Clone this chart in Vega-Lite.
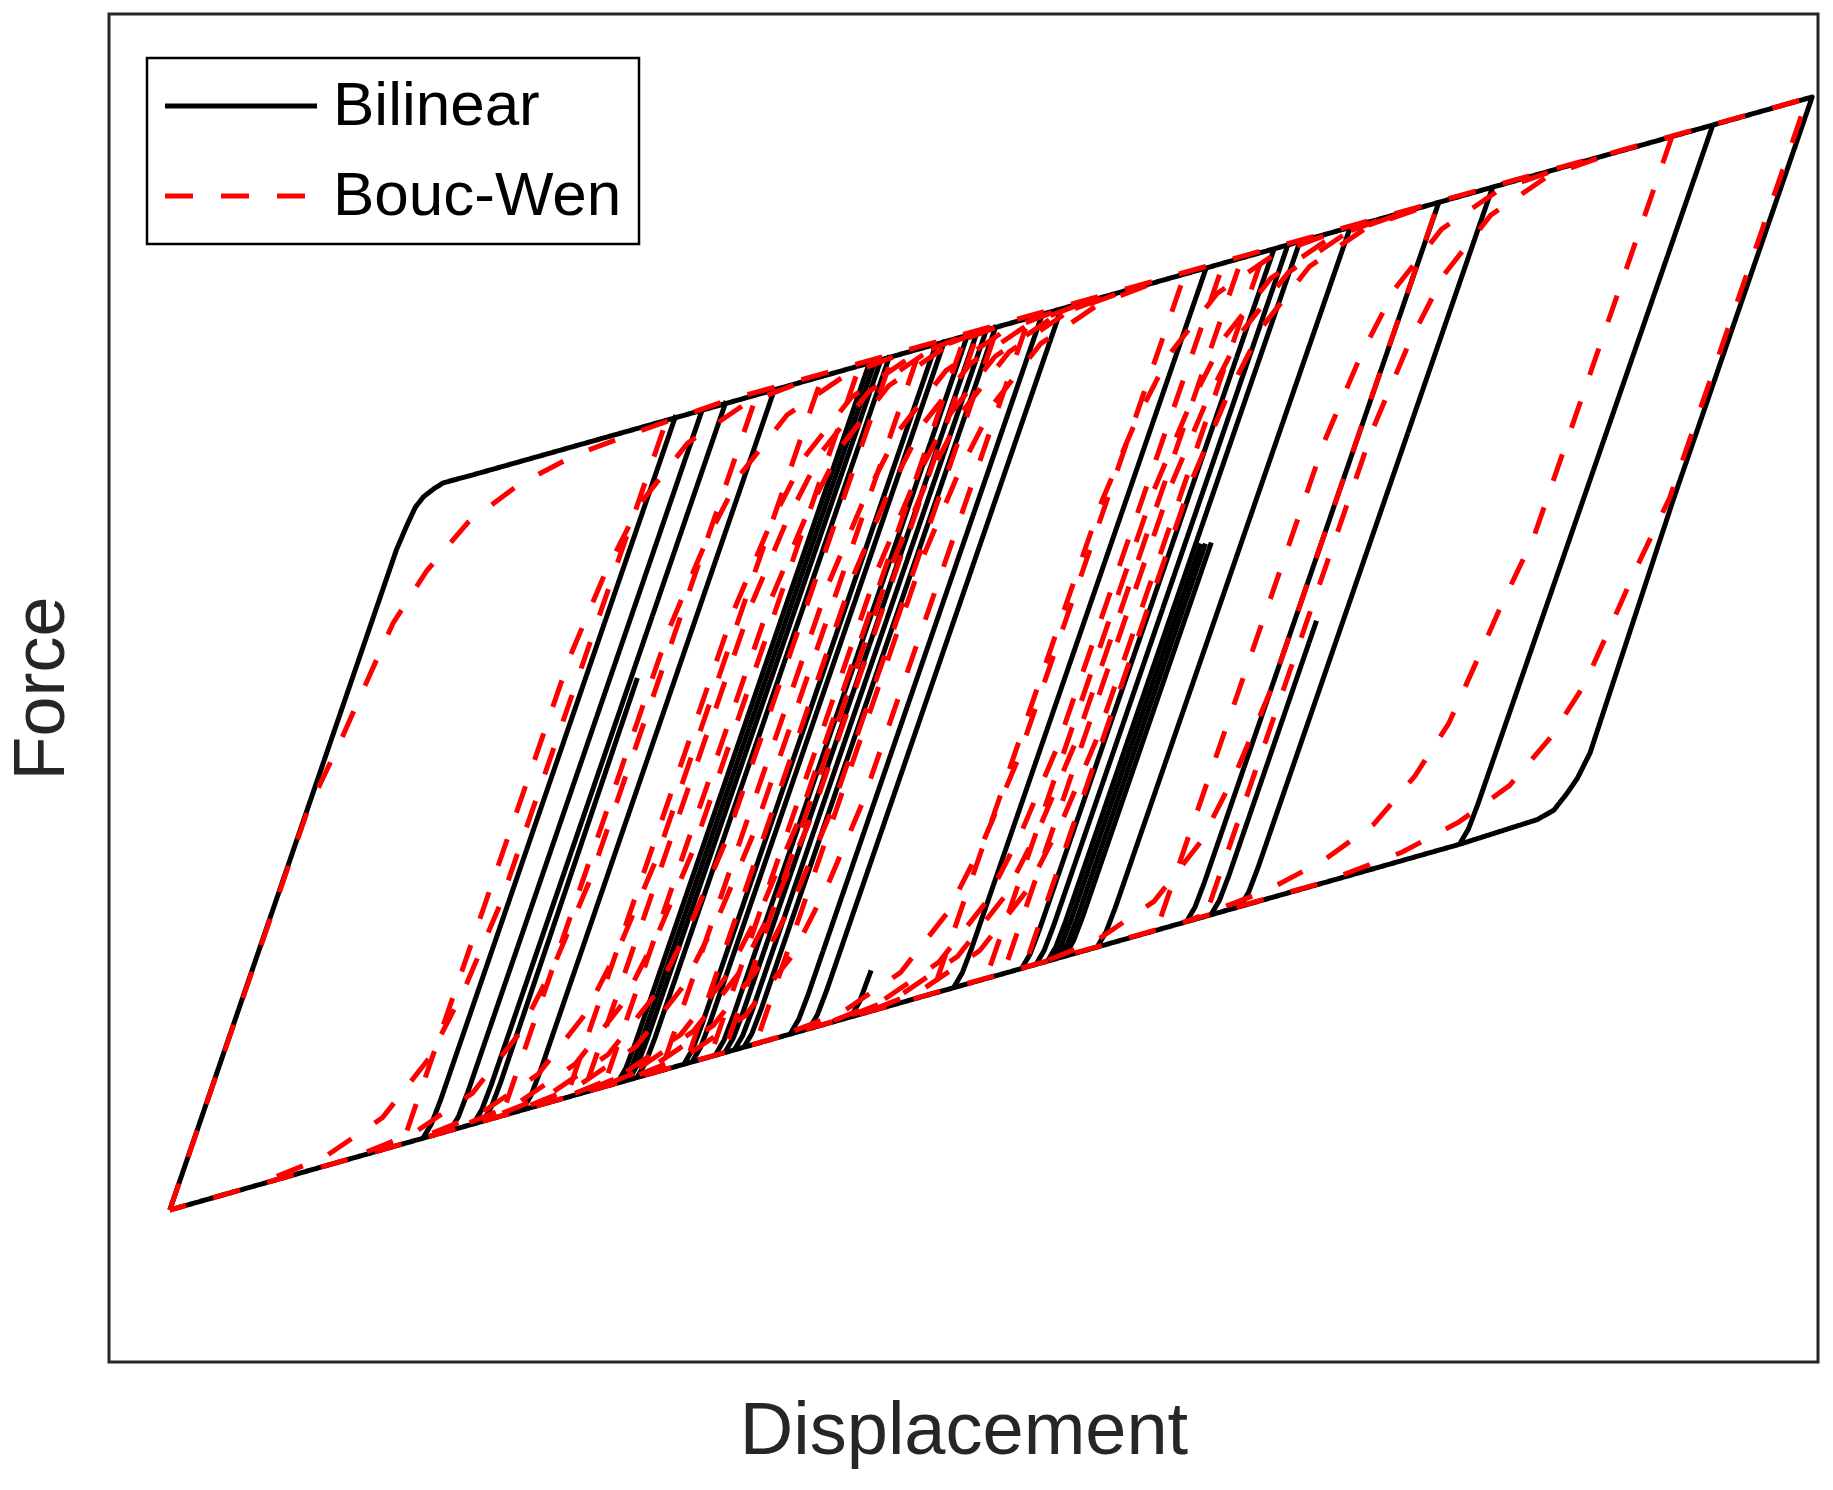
{
  "$schema": "https://vega.github.io/schema/vega-lite/v6.json",
  "width": 1709,
  "height": 1348,
  "autosize": {"type": "none"},
  "padding": {"left": 109, "top": 14, "right": 15, "bottom": 128},
  "background": "white",
  "config": {
    "font": "Liberation Sans",
    "view": {"stroke": "#262626", "strokeWidth": 3},
    "legend": {
      "labelFont": "Liberation Sans",
      "labelFontSize": 62,
      "labelColor": "black",
      "labelLimit": 500,
      "labelOffset": 61,
      "symbolOffset": 46,
      "symbolType": "M-4,0H4",
      "symbolSize": 1444,
      "symbolStrokeWidth": 5,
      "rowPadding": 28,
      "padding": 17,
      "strokeColor": "black",
      "strokeWidth": 2.5,
      "fillColor": "white",
      "cornerRadius": 0
    }
  },
  "datasets": {
    "pts": [
      {"m":"Bilinear","s":"k0","i":0,"d":145,"f":130},
      {"m":"Bilinear","s":"k0","i":1,"d":339,"f":695},
      {"m":"Bilinear","s":"k0","i":2,"d":348,"f":716},
      {"m":"Bilinear","s":"k0","i":3,"d":355,"f":731},
      {"m":"Bilinear","s":"k0","i":4,"d":362,"f":740},
      {"m":"Bilinear","s":"k0","i":5,"d":371,"f":747},
      {"m":"Bilinear","s":"k0","i":6,"d":379,"f":752},
      {"m":"Bilinear","s":"k0","i":7,"d":405,"f":759},
      {"m":"Bilinear","s":"k0","i":8,"d":1550,"f":1082},
      {"m":"Bilinear","s":"k0","i":9,"d":1431,"f":737},
      {"m":"Bilinear","s":"k0","i":10,"d":1360,"f":521},
      {"m":"Bilinear","s":"k0","i":11,"d":1349,"f":499},
      {"m":"Bilinear","s":"k0","i":12,"d":1340,"f":486},
      {"m":"Bilinear","s":"k0","i":13,"d":1329,"f":472},
      {"m":"Bilinear","s":"k0","i":14,"d":1315,"f":464},
      {"m":"Bilinear","s":"k0","i":15,"d":1249,"f":443},
      {"m":"Bilinear","s":"k0","i":16,"d":145,"f":130},

      {"m":"Bilinear","s":"k1","i":0,"d":362,"f":192},{"m":"Bilinear","s":"k1","i":1,"d":369,"f":204},{"m":"Bilinear","s":"k1","i":2,"d":377,"f":225},{"m":"Bilinear","s":"k1","i":3,"d":578,"f":810},
      {"m":"Bilinear","s":"k2","i":0,"d":385,"f":198},{"m":"Bilinear","s":"k2","i":1,"d":392,"f":210},{"m":"Bilinear","s":"k2","i":2,"d":400,"f":231},{"m":"Bilinear","s":"k2","i":3,"d":601,"f":816},
      {"m":"Bilinear","s":"k3","i":0,"d":405,"f":204},{"m":"Bilinear","s":"k3","i":1,"d":412,"f":216},{"m":"Bilinear","s":"k3","i":2,"d":420,"f":237},{"m":"Bilinear","s":"k3","i":3,"d":621,"f":822},
      {"m":"Bilinear","s":"k4","i":0,"d":447,"f":216},{"m":"Bilinear","s":"k4","i":1,"d":454,"f":228},{"m":"Bilinear","s":"k4","i":2,"d":462,"f":249},{"m":"Bilinear","s":"k4","i":3,"d":663,"f":834},
      {"m":"Bilinear","s":"k5","i":0,"d":528,"f":239},{"m":"Bilinear","s":"k5","i":1,"d":535,"f":251},{"m":"Bilinear","s":"k5","i":2,"d":543,"f":272},{"m":"Bilinear","s":"k5","i":3,"d":744,"f":856},
      {"m":"Bilinear","s":"k6","i":0,"d":533,"f":240},{"m":"Bilinear","s":"k6","i":1,"d":540,"f":252},{"m":"Bilinear","s":"k6","i":2,"d":548,"f":273},{"m":"Bilinear","s":"k6","i":3,"d":749,"f":858},
      {"m":"Bilinear","s":"k7","i":0,"d":538,"f":242},{"m":"Bilinear","s":"k7","i":1,"d":545,"f":254},{"m":"Bilinear","s":"k7","i":2,"d":553,"f":275},{"m":"Bilinear","s":"k7","i":3,"d":754,"f":859},
      {"m":"Bilinear","s":"k8","i":0,"d":545,"f":244},{"m":"Bilinear","s":"k8","i":1,"d":552,"f":256},{"m":"Bilinear","s":"k8","i":2,"d":560,"f":277},{"m":"Bilinear","s":"k8","i":3,"d":761,"f":861},
      {"m":"Bilinear","s":"k9","i":0,"d":585,"f":255},{"m":"Bilinear","s":"k9","i":1,"d":592,"f":267},{"m":"Bilinear","s":"k9","i":2,"d":600,"f":288},{"m":"Bilinear","s":"k9","i":3,"d":801,"f":872},
      {"m":"Bilinear","s":"k10","i":0,"d":592,"f":257},{"m":"Bilinear","s":"k10","i":1,"d":599,"f":269},{"m":"Bilinear","s":"k10","i":2,"d":607,"f":290},{"m":"Bilinear","s":"k10","i":3,"d":808,"f":874},
      {"m":"Bilinear","s":"k11","i":0,"d":612,"f":263},{"m":"Bilinear","s":"k11","i":1,"d":619,"f":275},{"m":"Bilinear","s":"k11","i":2,"d":627,"f":296},{"m":"Bilinear","s":"k11","i":3,"d":828,"f":880},
      {"m":"Bilinear","s":"k12","i":0,"d":620,"f":265},{"m":"Bilinear","s":"k12","i":1,"d":627,"f":277},{"m":"Bilinear","s":"k12","i":2,"d":635,"f":298},{"m":"Bilinear","s":"k12","i":3,"d":836,"f":882},
      {"m":"Bilinear","s":"k13","i":0,"d":628,"f":267},{"m":"Bilinear","s":"k13","i":1,"d":635,"f":279},{"m":"Bilinear","s":"k13","i":2,"d":643,"f":300},{"m":"Bilinear","s":"k13","i":3,"d":844,"f":884},
      {"m":"Bilinear","s":"k14","i":0,"d":636,"f":269},{"m":"Bilinear","s":"k14","i":1,"d":643,"f":281},{"m":"Bilinear","s":"k14","i":2,"d":651,"f":302},{"m":"Bilinear","s":"k14","i":3,"d":852,"f":887},
      {"m":"Bilinear","s":"k15","i":0,"d":676,"f":281},{"m":"Bilinear","s":"k15","i":1,"d":683,"f":293},{"m":"Bilinear","s":"k15","i":2,"d":691,"f":314},{"m":"Bilinear","s":"k15","i":3,"d":892,"f":898},
      {"m":"Bilinear","s":"k16","i":0,"d":692,"f":285},{"m":"Bilinear","s":"k16","i":1,"d":699,"f":297},{"m":"Bilinear","s":"k16","i":2,"d":707,"f":318},{"m":"Bilinear","s":"k16","i":3,"d":908,"f":902},
      {"m":"Bilinear","s":"k17","i":0,"d":816,"f":321},{"m":"Bilinear","s":"k17","i":1,"d":823,"f":333},{"m":"Bilinear","s":"k17","i":2,"d":831,"f":354},{"m":"Bilinear","s":"k17","i":3,"d":1032,"f":937},
      {"m":"Bilinear","s":"k18","i":0,"d":874,"f":337},{"m":"Bilinear","s":"k18","i":1,"d":881,"f":349},{"m":"Bilinear","s":"k18","i":2,"d":889,"f":370},{"m":"Bilinear","s":"k18","i":3,"d":1090,"f":953},
      {"m":"Bilinear","s":"k19","i":0,"d":886,"f":340},{"m":"Bilinear","s":"k19","i":1,"d":893,"f":352},{"m":"Bilinear","s":"k19","i":2,"d":901,"f":373},{"m":"Bilinear","s":"k19","i":3,"d":1102,"f":957},
      {"m":"Bilinear","s":"k20","i":0,"d":896,"f":343},{"m":"Bilinear","s":"k20","i":1,"d":903,"f":355},{"m":"Bilinear","s":"k20","i":2,"d":911,"f":376},{"m":"Bilinear","s":"k20","i":3,"d":1112,"f":959},
      {"m":"Bilinear","s":"k21","i":0,"d":939,"f":356},{"m":"Bilinear","s":"k21","i":1,"d":946,"f":368},{"m":"Bilinear","s":"k21","i":2,"d":954,"f":389},{"m":"Bilinear","s":"k21","i":3,"d":1155,"f":971},
      {"m":"Bilinear","s":"k22","i":0,"d":1015,"f":377},{"m":"Bilinear","s":"k22","i":1,"d":1022,"f":389},{"m":"Bilinear","s":"k22","i":2,"d":1030,"f":410},{"m":"Bilinear","s":"k22","i":3,"d":1231,"f":993},
      {"m":"Bilinear","s":"k23","i":0,"d":1061,"f":390},{"m":"Bilinear","s":"k23","i":1,"d":1068,"f":402},{"m":"Bilinear","s":"k23","i":2,"d":1076,"f":423},{"m":"Bilinear","s":"k23","i":3,"d":1277,"f":1006},
      {"m":"Bilinear","s":"k24","i":0,"d":1249,"f":444},{"m":"Bilinear","s":"k24","i":1,"d":1256,"f":456},{"m":"Bilinear","s":"k24","i":2,"d":1264,"f":477},{"m":"Bilinear","s":"k24","i":3,"d":1465,"f":1058},
      {"m":"Bilinear","s":"k25","i":0,"d":901,"f":345},{"m":"Bilinear","s":"k25","i":1,"d":908,"f":357},{"m":"Bilinear","s":"k25","i":2,"d":916,"f":378},{"m":"Bilinear","s":"k25","i":3,"d":1027,"f":700},
      {"m":"Bilinear","s":"k26","i":0,"d":906,"f":346},{"m":"Bilinear","s":"k26","i":1,"d":913,"f":358},{"m":"Bilinear","s":"k26","i":2,"d":921,"f":379},{"m":"Bilinear","s":"k26","i":3,"d":1031,"f":700},
      {"m":"Bilinear","s":"k27","i":0,"d":911,"f":348},{"m":"Bilinear","s":"k27","i":1,"d":918,"f":360},{"m":"Bilinear","s":"k27","i":2,"d":926,"f":381},{"m":"Bilinear","s":"k27","i":3,"d":1036,"f":701},
      {"m":"Bilinear","s":"k28","i":0,"d":1036,"f":383},{"m":"Bilinear","s":"k28","i":1,"d":1043,"f":395},{"m":"Bilinear","s":"k28","i":2,"d":1051,"f":416},{"m":"Bilinear","s":"k28","i":3,"d":1126,"f":634},
      {"m":"Bilinear","s":"k29","i":0,"d":413,"f":206},{"m":"Bilinear","s":"k29","i":1,"d":420,"f":218},{"m":"Bilinear","s":"k29","i":2,"d":428,"f":239},{"m":"Bilinear","s":"k29","i":3,"d":545,"f":585},
      {"m":"Bilinear","s":"k30","i":0,"d":728,"f":296},{"m":"Bilinear","s":"k30","i":1,"d":735,"f":308},{"m":"Bilinear","s":"k30","i":2,"d":745,"f":335},

      {"m":"Bouc-Wen","s":"r0","i":0,"d":145,"f":130},
      {"m":"Bouc-Wen","s":"r0","i":1,"d":263,"f":472},
      {"m":"Bouc-Wen","s":"r0","i":2,"d":291,"f":531},
      {"m":"Bouc-Wen","s":"r0","i":3,"d":314,"f":583},
      {"m":"Bouc-Wen","s":"r0","i":4,"d":336,"f":632},
      {"m":"Bouc-Wen","s":"r0","i":5,"d":365,"f":677},
      {"m":"Bouc-Wen","s":"r0","i":6,"d":400,"f":718},
      {"m":"Bouc-Wen","s":"r0","i":7,"d":443,"f":750},
      {"m":"Bouc-Wen","s":"r0","i":8,"d":492,"f":776},
      {"m":"Bouc-Wen","s":"r0","i":9,"d":560,"f":801},
      {"m":"Bouc-Wen","s":"r0","i":10,"d":620,"f":822},
      {"m":"Bouc-Wen","s":"r0","i":11,"d":1546,"f":1081},
      {"m":"Bouc-Wen","s":"r0","i":12,"d":1428,"f":739},
      {"m":"Bouc-Wen","s":"r0","i":13,"d":1400,"f":680},
      {"m":"Bouc-Wen","s":"r0","i":14,"d":1377,"f":628},
      {"m":"Bouc-Wen","s":"r0","i":15,"d":1355,"f":579},
      {"m":"Bouc-Wen","s":"r0","i":16,"d":1326,"f":534},
      {"m":"Bouc-Wen","s":"r0","i":17,"d":1291,"f":493},
      {"m":"Bouc-Wen","s":"r0","i":18,"d":1248,"f":462},
      {"m":"Bouc-Wen","s":"r0","i":19,"d":1199,"f":436},
      {"m":"Bouc-Wen","s":"r0","i":20,"d":1131,"f":410},
      {"m":"Bouc-Wen","s":"r0","i":21,"d":145,"f":130},

      {"m":"Bouc-Wen","s":"r1","i":0,"d":348,"f":198},{"m":"Bouc-Wen","s":"r1","i":1,"d":488,"f":605},{"m":"Bouc-Wen","s":"r1","i":2,"d":518,"f":676},{"m":"Bouc-Wen","s":"r1","i":3,"d":548,"f":735},{"m":"Bouc-Wen","s":"r1","i":4,"d":588,"f":786},{"m":"Bouc-Wen","s":"r1","i":5,"d":638,"f":820},{"m":"Bouc-Wen","s":"r1","i":6,"d":698,"f":843},
      {"m":"Bouc-Wen","s":"r3","i":0,"d":433,"f":222},{"m":"Bouc-Wen","s":"r3","i":1,"d":573,"f":629},{"m":"Bouc-Wen","s":"r3","i":2,"d":603,"f":700},{"m":"Bouc-Wen","s":"r3","i":3,"d":633,"f":759},{"m":"Bouc-Wen","s":"r3","i":4,"d":673,"f":810},{"m":"Bouc-Wen","s":"r3","i":5,"d":723,"f":844},{"m":"Bouc-Wen","s":"r3","i":6,"d":783,"f":867},
      {"m":"Bouc-Wen","s":"r5","i":0,"d":488,"f":237},{"m":"Bouc-Wen","s":"r5","i":1,"d":628,"f":644},{"m":"Bouc-Wen","s":"r5","i":2,"d":658,"f":715},{"m":"Bouc-Wen","s":"r5","i":3,"d":688,"f":774},{"m":"Bouc-Wen","s":"r5","i":4,"d":728,"f":825},{"m":"Bouc-Wen","s":"r5","i":5,"d":778,"f":859},{"m":"Bouc-Wen","s":"r5","i":6,"d":838,"f":883},
      {"m":"Bouc-Wen","s":"r7","i":0,"d":503,"f":242},{"m":"Bouc-Wen","s":"r7","i":1,"d":643,"f":649},{"m":"Bouc-Wen","s":"r7","i":2,"d":673,"f":720},{"m":"Bouc-Wen","s":"r7","i":3,"d":703,"f":779},{"m":"Bouc-Wen","s":"r7","i":4,"d":743,"f":830},{"m":"Bouc-Wen","s":"r7","i":5,"d":793,"f":864},{"m":"Bouc-Wen","s":"r7","i":6,"d":853,"f":887},
      {"m":"Bouc-Wen","s":"r9","i":0,"d":569,"f":260},{"m":"Bouc-Wen","s":"r9","i":1,"d":709,"f":667},{"m":"Bouc-Wen","s":"r9","i":2,"d":739,"f":738},{"m":"Bouc-Wen","s":"r9","i":3,"d":769,"f":797},{"m":"Bouc-Wen","s":"r9","i":4,"d":809,"f":848},{"m":"Bouc-Wen","s":"r9","i":5,"d":859,"f":882},{"m":"Bouc-Wen","s":"r9","i":6,"d":919,"f":905},
      {"m":"Bouc-Wen","s":"r11","i":0,"d":611,"f":272},{"m":"Bouc-Wen","s":"r11","i":1,"d":751,"f":679},{"m":"Bouc-Wen","s":"r11","i":2,"d":781,"f":750},{"m":"Bouc-Wen","s":"r11","i":3,"d":811,"f":809},{"m":"Bouc-Wen","s":"r11","i":4,"d":851,"f":860},{"m":"Bouc-Wen","s":"r11","i":5,"d":901,"f":894},{"m":"Bouc-Wen","s":"r11","i":6,"d":961,"f":917},
      {"m":"Bouc-Wen","s":"r13","i":0,"d":623,"f":276},{"m":"Bouc-Wen","s":"r13","i":1,"d":763,"f":683},{"m":"Bouc-Wen","s":"r13","i":2,"d":793,"f":754},{"m":"Bouc-Wen","s":"r13","i":3,"d":823,"f":813},{"m":"Bouc-Wen","s":"r13","i":4,"d":863,"f":864},{"m":"Bouc-Wen","s":"r13","i":5,"d":913,"f":898},{"m":"Bouc-Wen","s":"r13","i":6,"d":973,"f":920},
      {"m":"Bouc-Wen","s":"r15","i":0,"d":650,"f":283},{"m":"Bouc-Wen","s":"r15","i":1,"d":790,"f":690},{"m":"Bouc-Wen","s":"r15","i":2,"d":820,"f":761},{"m":"Bouc-Wen","s":"r15","i":3,"d":850,"f":820},{"m":"Bouc-Wen","s":"r15","i":4,"d":890,"f":871},{"m":"Bouc-Wen","s":"r15","i":5,"d":940,"f":905},{"m":"Bouc-Wen","s":"r15","i":6,"d":1000,"f":928},
      {"m":"Bouc-Wen","s":"r17","i":0,"d":801,"f":326},{"m":"Bouc-Wen","s":"r17","i":1,"d":941,"f":733},{"m":"Bouc-Wen","s":"r17","i":2,"d":971,"f":804},{"m":"Bouc-Wen","s":"r17","i":3,"d":1001,"f":863},{"m":"Bouc-Wen","s":"r17","i":4,"d":1041,"f":914},{"m":"Bouc-Wen","s":"r17","i":5,"d":1091,"f":948},{"m":"Bouc-Wen","s":"r17","i":6,"d":1151,"f":970},
      {"m":"Bouc-Wen","s":"r19","i":0,"d":847,"f":339},{"m":"Bouc-Wen","s":"r19","i":1,"d":987,"f":746},{"m":"Bouc-Wen","s":"r19","i":2,"d":1017,"f":817},{"m":"Bouc-Wen","s":"r19","i":3,"d":1047,"f":876},{"m":"Bouc-Wen","s":"r19","i":4,"d":1087,"f":927},{"m":"Bouc-Wen","s":"r19","i":5,"d":1137,"f":961},{"m":"Bouc-Wen","s":"r19","i":6,"d":1197,"f":983},
      {"m":"Bouc-Wen","s":"r21","i":0,"d":862,"f":344},{"m":"Bouc-Wen","s":"r21","i":1,"d":1002,"f":751},{"m":"Bouc-Wen","s":"r21","i":2,"d":1032,"f":822},{"m":"Bouc-Wen","s":"r21","i":3,"d":1062,"f":881},{"m":"Bouc-Wen","s":"r21","i":4,"d":1102,"f":932},{"m":"Bouc-Wen","s":"r21","i":5,"d":1152,"f":966},{"m":"Bouc-Wen","s":"r21","i":6,"d":1212,"f":987},
      {"m":"Bouc-Wen","s":"r23","i":0,"d":993,"f":381},{"m":"Bouc-Wen","s":"r23","i":1,"d":1133,"f":788},{"m":"Bouc-Wen","s":"r23","i":2,"d":1163,"f":859},{"m":"Bouc-Wen","s":"r23","i":3,"d":1193,"f":918},{"m":"Bouc-Wen","s":"r23","i":4,"d":1233,"f":969},{"m":"Bouc-Wen","s":"r23","i":5,"d":1283,"f":1003},{"m":"Bouc-Wen","s":"r23","i":6,"d":1343,"f":1024},
      {"m":"Bouc-Wen","s":"r25","i":0,"d":1035,"f":393},{"m":"Bouc-Wen","s":"r25","i":1,"d":1175,"f":800},{"m":"Bouc-Wen","s":"r25","i":2,"d":1205,"f":871},{"m":"Bouc-Wen","s":"r25","i":3,"d":1235,"f":930},{"m":"Bouc-Wen","s":"r25","i":4,"d":1275,"f":981},{"m":"Bouc-Wen","s":"r25","i":5,"d":1325,"f":1015},{"m":"Bouc-Wen","s":"r25","i":6,"d":1385,"f":1036},
      {"m":"Bouc-Wen","s":"r27","i":0,"d":520,"f":247},{"m":"Bouc-Wen","s":"r27","i":1,"d":660,"f":654},{"m":"Bouc-Wen","s":"r27","i":2,"d":690,"f":725},{"m":"Bouc-Wen","s":"r27","i":3,"d":720,"f":784},{"m":"Bouc-Wen","s":"r27","i":4,"d":760,"f":835},{"m":"Bouc-Wen","s":"r27","i":5,"d":810,"f":869},{"m":"Bouc-Wen","s":"r27","i":6,"d":870,"f":892},
      {"m":"Bouc-Wen","s":"r29","i":0,"d":590,"f":266},{"m":"Bouc-Wen","s":"r29","i":1,"d":730,"f":673},{"m":"Bouc-Wen","s":"r29","i":2,"d":760,"f":744},{"m":"Bouc-Wen","s":"r29","i":3,"d":790,"f":803},{"m":"Bouc-Wen","s":"r29","i":4,"d":830,"f":854},{"m":"Bouc-Wen","s":"r29","i":5,"d":880,"f":888},{"m":"Bouc-Wen","s":"r29","i":6,"d":940,"f":911},
      {"m":"Bouc-Wen","s":"r31","i":0,"d":880,"f":349},{"m":"Bouc-Wen","s":"r31","i":1,"d":1020,"f":756},{"m":"Bouc-Wen","s":"r31","i":2,"d":1050,"f":827},{"m":"Bouc-Wen","s":"r31","i":3,"d":1080,"f":886},{"m":"Bouc-Wen","s":"r31","i":4,"d":1120,"f":937},{"m":"Bouc-Wen","s":"r31","i":5,"d":1170,"f":971},{"m":"Bouc-Wen","s":"r31","i":6,"d":1230,"f":992},

      {"m":"Bouc-Wen","s":"r2","i":0,"d":567,"f":797},{"m":"Bouc-Wen","s":"r2","i":1,"d":427,"f":390},{"m":"Bouc-Wen","s":"r2","i":2,"d":397,"f":319},{"m":"Bouc-Wen","s":"r2","i":3,"d":367,"f":260},{"m":"Bouc-Wen","s":"r2","i":4,"d":327,"f":209},{"m":"Bouc-Wen","s":"r2","i":5,"d":277,"f":175},{"m":"Bouc-Wen","s":"r2","i":6,"d":217,"f":151},
      {"m":"Bouc-Wen","s":"r4","i":0,"d":644,"f":818},{"m":"Bouc-Wen","s":"r4","i":1,"d":504,"f":411},{"m":"Bouc-Wen","s":"r4","i":2,"d":474,"f":340},{"m":"Bouc-Wen","s":"r4","i":3,"d":444,"f":281},{"m":"Bouc-Wen","s":"r4","i":4,"d":404,"f":230},{"m":"Bouc-Wen","s":"r4","i":5,"d":354,"f":196},{"m":"Bouc-Wen","s":"r4","i":6,"d":294,"f":172},
      {"m":"Bouc-Wen","s":"r6","i":0,"d":700,"f":834},{"m":"Bouc-Wen","s":"r6","i":1,"d":560,"f":427},{"m":"Bouc-Wen","s":"r6","i":2,"d":530,"f":356},{"m":"Bouc-Wen","s":"r6","i":3,"d":500,"f":297},{"m":"Bouc-Wen","s":"r6","i":4,"d":460,"f":246},{"m":"Bouc-Wen","s":"r6","i":5,"d":410,"f":212},{"m":"Bouc-Wen","s":"r6","i":6,"d":350,"f":188},
      {"m":"Bouc-Wen","s":"r8","i":0,"d":732,"f":843},{"m":"Bouc-Wen","s":"r8","i":1,"d":592,"f":436},{"m":"Bouc-Wen","s":"r8","i":2,"d":562,"f":365},{"m":"Bouc-Wen","s":"r8","i":3,"d":532,"f":306},{"m":"Bouc-Wen","s":"r8","i":4,"d":492,"f":255},{"m":"Bouc-Wen","s":"r8","i":5,"d":442,"f":221},{"m":"Bouc-Wen","s":"r8","i":6,"d":382,"f":197},
      {"m":"Bouc-Wen","s":"r10","i":0,"d":784,"f":858},{"m":"Bouc-Wen","s":"r10","i":1,"d":644,"f":451},{"m":"Bouc-Wen","s":"r10","i":2,"d":614,"f":380},{"m":"Bouc-Wen","s":"r10","i":3,"d":584,"f":321},{"m":"Bouc-Wen","s":"r10","i":4,"d":544,"f":270},{"m":"Bouc-Wen","s":"r10","i":5,"d":494,"f":236},{"m":"Bouc-Wen","s":"r10","i":6,"d":434,"f":212},
      {"m":"Bouc-Wen","s":"r12","i":0,"d":822,"f":868},{"m":"Bouc-Wen","s":"r12","i":1,"d":682,"f":461},{"m":"Bouc-Wen","s":"r12","i":2,"d":652,"f":390},{"m":"Bouc-Wen","s":"r12","i":3,"d":622,"f":331},{"m":"Bouc-Wen","s":"r12","i":4,"d":582,"f":280},{"m":"Bouc-Wen","s":"r12","i":5,"d":532,"f":246},{"m":"Bouc-Wen","s":"r12","i":6,"d":472,"f":222},
      {"m":"Bouc-Wen","s":"r14","i":0,"d":833,"f":871},{"m":"Bouc-Wen","s":"r14","i":1,"d":693,"f":464},{"m":"Bouc-Wen","s":"r14","i":2,"d":663,"f":393},{"m":"Bouc-Wen","s":"r14","i":3,"d":633,"f":334},{"m":"Bouc-Wen","s":"r14","i":4,"d":593,"f":283},{"m":"Bouc-Wen","s":"r14","i":5,"d":543,"f":249},{"m":"Bouc-Wen","s":"r14","i":6,"d":483,"f":225},
      {"m":"Bouc-Wen","s":"r16","i":0,"d":877,"f":884},{"m":"Bouc-Wen","s":"r16","i":1,"d":737,"f":477},{"m":"Bouc-Wen","s":"r16","i":2,"d":707,"f":406},{"m":"Bouc-Wen","s":"r16","i":3,"d":677,"f":347},{"m":"Bouc-Wen","s":"r16","i":4,"d":637,"f":296},{"m":"Bouc-Wen","s":"r16","i":5,"d":587,"f":262},{"m":"Bouc-Wen","s":"r16","i":6,"d":527,"f":238},
      {"m":"Bouc-Wen","s":"r18","i":0,"d":1043,"f":930},{"m":"Bouc-Wen","s":"r18","i":1,"d":903,"f":523},{"m":"Bouc-Wen","s":"r18","i":2,"d":873,"f":452},{"m":"Bouc-Wen","s":"r18","i":3,"d":843,"f":393},{"m":"Bouc-Wen","s":"r18","i":4,"d":803,"f":342},{"m":"Bouc-Wen","s":"r18","i":5,"d":753,"f":308},{"m":"Bouc-Wen","s":"r18","i":6,"d":693,"f":284},
      {"m":"Bouc-Wen","s":"r20","i":0,"d":1059,"f":935},{"m":"Bouc-Wen","s":"r20","i":1,"d":919,"f":528},{"m":"Bouc-Wen","s":"r20","i":2,"d":889,"f":457},{"m":"Bouc-Wen","s":"r20","i":3,"d":859,"f":398},{"m":"Bouc-Wen","s":"r20","i":4,"d":819,"f":347},{"m":"Bouc-Wen","s":"r20","i":5,"d":769,"f":313},{"m":"Bouc-Wen","s":"r20","i":6,"d":709,"f":289},
      {"m":"Bouc-Wen","s":"r22","i":0,"d":1078,"f":940},{"m":"Bouc-Wen","s":"r22","i":1,"d":938,"f":533},{"m":"Bouc-Wen","s":"r22","i":2,"d":908,"f":462},{"m":"Bouc-Wen","s":"r22","i":3,"d":878,"f":403},{"m":"Bouc-Wen","s":"r22","i":4,"d":838,"f":352},{"m":"Bouc-Wen","s":"r22","i":5,"d":788,"f":318},{"m":"Bouc-Wen","s":"r22","i":6,"d":728,"f":294},
      {"m":"Bouc-Wen","s":"r24","i":0,"d":1227,"f":982},{"m":"Bouc-Wen","s":"r24","i":1,"d":1087,"f":575},{"m":"Bouc-Wen","s":"r24","i":2,"d":1057,"f":504},{"m":"Bouc-Wen","s":"r24","i":3,"d":1027,"f":445},{"m":"Bouc-Wen","s":"r24","i":4,"d":987,"f":394},{"m":"Bouc-Wen","s":"r24","i":5,"d":937,"f":360},{"m":"Bouc-Wen","s":"r24","i":6,"d":877,"f":336},
      {"m":"Bouc-Wen","s":"r26","i":0,"d":1430,"f":1048},{"m":"Bouc-Wen","s":"r26","i":1,"d":1312,"f":706},{"m":"Bouc-Wen","s":"r26","i":2,"d":1284,"f":647},{"m":"Bouc-Wen","s":"r26","i":3,"d":1261,"f":595},{"m":"Bouc-Wen","s":"r26","i":4,"d":1239,"f":546},{"m":"Bouc-Wen","s":"r26","i":5,"d":1210,"f":501},{"m":"Bouc-Wen","s":"r26","i":6,"d":1175,"f":460},{"m":"Bouc-Wen","s":"r26","i":7,"d":1132,"f":429},{"m":"Bouc-Wen","s":"r26","i":8,"d":1083,"f":403},{"m":"Bouc-Wen","s":"r26","i":9,"d":1015,"f":377},
      {"m":"Bouc-Wen","s":"r28","i":0,"d":760,"f":851},{"m":"Bouc-Wen","s":"r28","i":1,"d":620,"f":444},{"m":"Bouc-Wen","s":"r28","i":2,"d":590,"f":373},{"m":"Bouc-Wen","s":"r28","i":3,"d":560,"f":314},{"m":"Bouc-Wen","s":"r28","i":4,"d":520,"f":263},{"m":"Bouc-Wen","s":"r28","i":5,"d":470,"f":229},{"m":"Bouc-Wen","s":"r28","i":6,"d":410,"f":205},
      {"m":"Bouc-Wen","s":"r30","i":0,"d":850,"f":876},{"m":"Bouc-Wen","s":"r30","i":1,"d":710,"f":469},{"m":"Bouc-Wen","s":"r30","i":2,"d":680,"f":398},{"m":"Bouc-Wen","s":"r30","i":3,"d":650,"f":339},{"m":"Bouc-Wen","s":"r30","i":4,"d":610,"f":288},{"m":"Bouc-Wen","s":"r30","i":5,"d":560,"f":254},{"m":"Bouc-Wen","s":"r30","i":6,"d":500,"f":230},
      {"m":"Bouc-Wen","s":"r32","i":0,"d":1010,"f":921},{"m":"Bouc-Wen","s":"r32","i":1,"d":870,"f":514},{"m":"Bouc-Wen","s":"r32","i":2,"d":840,"f":443},{"m":"Bouc-Wen","s":"r32","i":3,"d":810,"f":384},{"m":"Bouc-Wen","s":"r32","i":4,"d":770,"f":333},{"m":"Bouc-Wen","s":"r32","i":5,"d":720,"f":299},{"m":"Bouc-Wen","s":"r32","i":6,"d":660,"f":276}
    ]
  },
  "data": {"name": "pts"},
  "encoding": {
    "x": {
      "field": "d",
      "type": "quantitative",
      "scale": {"domain": [93, 1555], "nice": false, "zero": false},
      "axis": {
        "title": "Displacement",
        "domain": false,
        "ticks": false,
        "labels": false,
        "grid": false,
        "titleFont": "Liberation Sans",
        "titleFontSize": 74,
        "titleFontWeight": "normal",
        "titleColor": "#262626",
        "titlePadding": 33
      }
    },
    "y": {
      "field": "f",
      "type": "quantitative",
      "scale": {"domain": [0, 1153], "nice": false, "zero": false},
      "axis": {
        "title": "Force",
        "domain": false,
        "ticks": false,
        "labels": false,
        "grid": false,
        "titleFont": "Liberation Sans",
        "titleFontSize": 72,
        "titleFontWeight": "normal",
        "titleColor": "#262626",
        "titlePadding": 31
      }
    },
    "color": {
      "field": "m",
      "type": "nominal",
      "scale": {"domain": ["Bilinear", "Bouc-Wen"], "range": ["#000000", "#ff0000"]},
      "legend": {"title": null, "orient": "none", "legendX": 38, "legendY": 44, "symbolType": "M-4,0H4"}
    },
    "strokeDash": {
      "field": "m",
      "type": "nominal",
      "scale": {"domain": ["Bilinear", "Bouc-Wen"], "range": [[1, 0], [28, 28]]},
      "legend": {"title": null, "orient": "none", "legendX": 38, "legendY": 44, "symbolType": "M-4,0H4"}
    },
    "detail": {"field": "s", "type": "nominal"},
    "order": {"field": "i", "type": "quantitative"}
  },
  "layer": [
    {
      "transform": [{"filter": "datum.m == 'Bilinear'"}],
      "mark": {"type": "line", "strokeWidth": 5, "strokeJoin": "round"}
    },
    {
      "transform": [{"filter": "datum.m == 'Bouc-Wen'"}],
      "mark": {"type": "line", "strokeWidth": 5, "strokeCap": "butt"}
    }
  ]
}
